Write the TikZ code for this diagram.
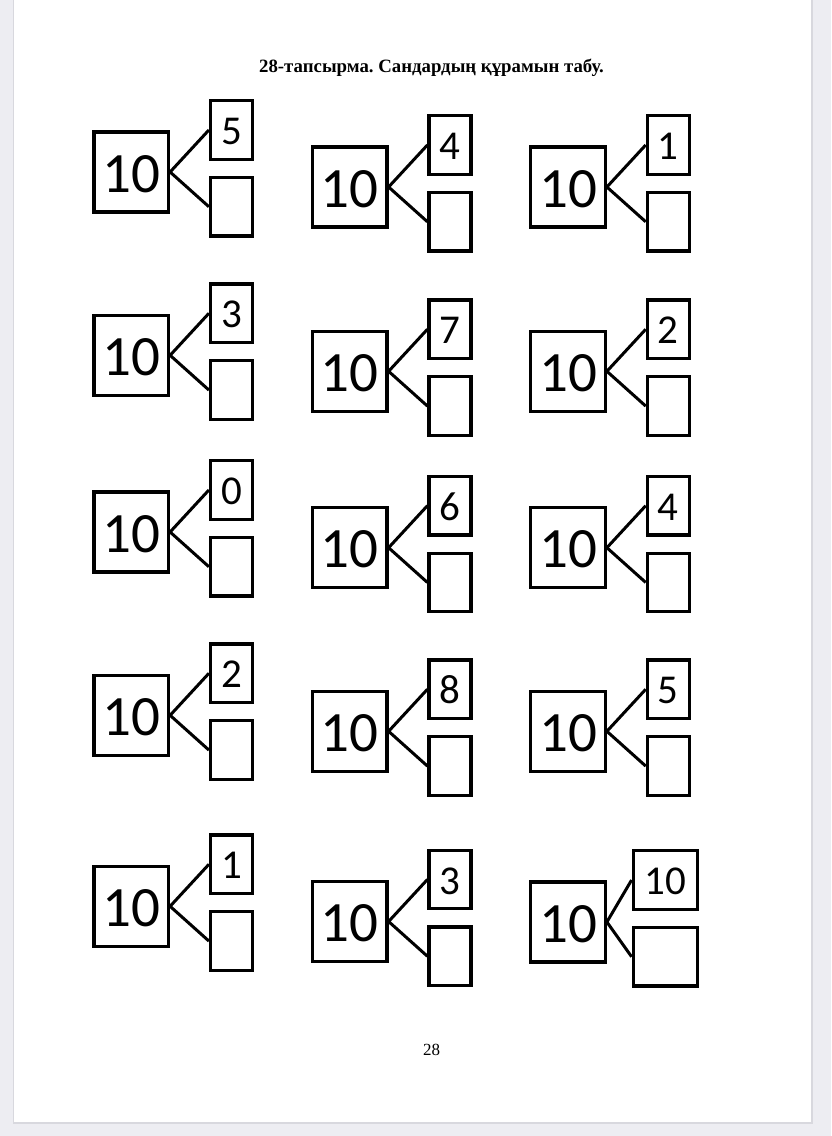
\documentclass[tikz,border=0pt]{standalone}
\usepackage{fontspec}
\setmainfont{Liberation Serif}
\newfontfamily\digitfont{Carlito}
\definecolor{bggrey}{RGB}{237,237,242}
\definecolor{shadowgrey}{RGB}{216,216,222}
\frenchspacing
\newcommand\bond[4]{%
  \node[bigbox] (#1big) at (#2+38.75, #3+42) {10};
  \node[smallbox] (#1top) at (#2+139, #3) {#4};
  \node[smallbox] (#1bot) at (#2+139, #3+76.75) {};
  \draw[bondline] (#1big.east) -- (#1top.west);
  \draw[bondline] (#1big.east) -- (#1bot.west);
}
\begin{document}
\begin{tikzpicture}[x=1pt,y=-1pt,
  bigbox/.style={draw, line width=3.2pt, minimum width=74.5pt, minimum height=80pt,
    inner sep=0pt, font=\digitfont\fontsize{57}{57}\selectfont,
    text height=40pt, text depth=0pt},
  smallbox/.style={draw, line width=3.2pt, minimum width=42pt, minimum height=58.5pt,
    inner sep=0pt, font=\digitfont\fontsize{41}{41}\selectfont,
    text height=29pt, text depth=0pt},
  widebox/.style={smallbox, minimum width=64pt},
  bondline/.style={line width=3pt},
  pagetext/.style={inner sep=0pt, font=\fontsize{17}{17}\selectfont}]
\useasboundingbox (0,0) rectangle (831,1136);
\fill[bggrey] (0,0) rectangle (831,1136);
\fill[shadowgrey] (12.5,0) rectangle (812.5,1123.5);
\fill[white] (14,0) rectangle (811,1122);
\node[pagetext, font=\fontsize{18.8}{18.8}\selectfont\bfseries] (title) at (431.5,67.5) {28-тапсырма. Сандардың құрамын табу.};
\node[pagetext] (pagenum) at (431.5,1049.5) {28};
% column 1
\bond{a}{92.5}{130}{5}
\bond{d}{92.5}{313.3}{3}
\bond{g}{92.5}{490}{0}
\bond{j}{92.5}{673.3}{2}
\bond{m}{92.5}{864.3}{1}
% column 2
\bond{b}{311}{145}{4}
\bond{e}{311}{329.3}{7}
\bond{h}{311}{505.7}{6}
\bond{k}{311}{689.3}{8}
\bond{n}{311}{879.5}{3}
% column 3
\bond{c}{529.3}{145}{1}
\bond{f}{529.3}{329.3}{2}
\bond{i}{529.3}{505.7}{4}
\bond{l}{529.3}{689.3}{5}
% last unit with wider boxes
\node[bigbox] (obig) at (529.3+38.75, 880+42) {10};
\node[widebox] (otop) at (665.2, 880) {10};
\node[widebox] (obot) at (665.2, 880+76.75) {};
\draw[bondline] (obig.east) -- (otop.west);
\draw[bondline] (obig.east) -- (obot.west);
\end{tikzpicture}
\end{document}
